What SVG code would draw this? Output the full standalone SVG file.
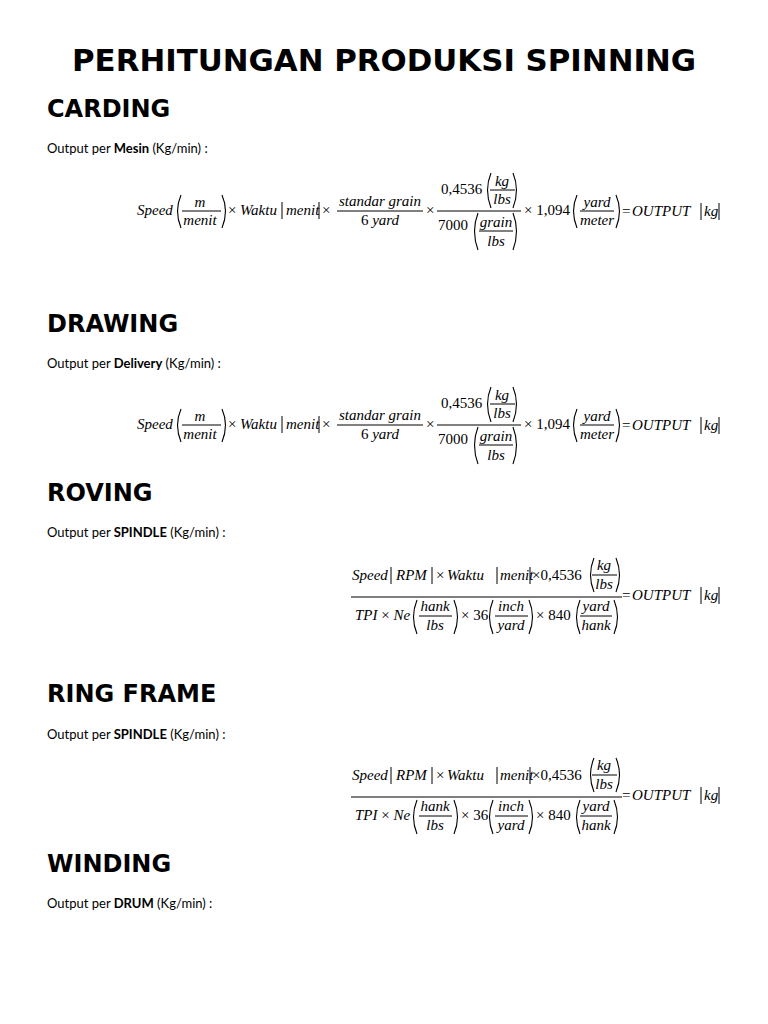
<svg xmlns="http://www.w3.org/2000/svg" xmlns:xlink="http://www.w3.org/1999/xlink" width="768" height="1024" viewBox="0 0 768 1024">
<style>
.t{font-family:"DejaVu Sans",sans-serif;font-weight:bold;fill:#000}
.h{font-family:"DejaVu Sans",sans-serif;font-weight:bold;font-size:24px;fill:#000}
.s{font-family:Lato,"Liberation Sans",sans-serif;font-size:13px;fill:#000}
.s b{font-weight:bold}
.m{font-family:"Liberation Serif",serif;font-style:italic;font-size:15px;fill:#000}
.n{font-family:"Liberation Serif",serif;font-size:15px;fill:#000}
.c{text-anchor:middle}
.l{stroke:#000;stroke-width:1;fill:none}
.p{stroke:#000;stroke-width:1.1;fill:none}
</style>
<rect width="768" height="1024" fill="#fff"/>
<defs>
<g id="f1">
<text class="m" x="137" y="215">Speed</text>
<path class="p" d="M181 195 Q174 211 181 228"/>
<text class="m c" x="200" y="207">m</text>
<line class="l" x1="182" y1="211" x2="221" y2="211"/>
<text class="m c" x="200" y="225">menit</text>
<path class="p" d="M222 195 Q229 211 222 228"/>
<text class="n" x="228" y="215">×</text>
<text class="m" x="240" y="215">Waktu</text>
<line class="l" x1="282" y1="202" x2="282" y2="219"/>
<text class="m" x="286" y="215">menit</text>
<line class="l" x1="319" y1="202" x2="319" y2="219"/>
<text class="n" x="322" y="215">×</text>
<text class="m c" x="380" y="206">standar grain</text>
<line class="l" x1="337" y1="211" x2="423" y2="211"/>
<text class="n c" x="380" y="225">6 <tspan font-style="italic">yard</tspan></text>
<text class="n" x="426" y="215">×</text>
<line class="l" x1="437" y1="211" x2="521" y2="211"/>
<text class="n" x="441" y="194">0,4536</text>
<path class="p" d="M491 173 Q484 190 491 208"/>
<text class="m c" x="502" y="186">kg</text>
<line class="l" x1="490" y1="190" x2="515" y2="190"/>
<text class="m c" x="502" y="204">lbs</text>
<path class="p" d="M513 173 Q520 190 513 208"/>
<text class="n" x="438" y="230">7000</text>
<path class="p" d="M478 213 Q471 231 478 250"/>
<text class="m c" x="496" y="227">grain</text>
<line class="l" x1="479" y1="231" x2="513" y2="231"/>
<text class="m c" x="496" y="246">lbs</text>
<path class="p" d="M513 213 Q520 231 513 250"/>
<text class="n" x="524" y="215">× 1,094</text>
<path class="p" d="M577 195 Q570 211 577 228"/>
<text class="m c" x="597" y="207">yard</text>
<line class="l" x1="580" y1="211" x2="614" y2="211"/>
<text class="m c" x="597" y="225">meter</text>
<path class="p" d="M616 195 Q623 211 616 228"/>
<text class="n" x="622" y="216">=</text>
<text class="m" x="632" y="216">OUTPUT</text>
<line class="l" x1="701" y1="203" x2="701" y2="220"/>
<text class="m" x="704" y="216">kg</text>
<line class="l" x1="719" y1="203" x2="719" y2="220"/>
</g>
<g id="f2">
<text class="m" x="352" y="580">Speed</text>
<line class="l" x1="391" y1="567" x2="391" y2="584"/>
<text class="m" x="396" y="580">RPM</text>
<line class="l" x1="432" y1="567" x2="432" y2="584"/>
<text class="n" x="436" y="580">×</text>
<text class="m" x="447" y="580">Waktu</text>
<line class="l" x1="497" y1="567" x2="497" y2="584"/>
<text class="m" x="500" y="580">menit</text>
<line class="l" x1="530" y1="567" x2="530" y2="584"/>
<text class="n" x="532" y="580">×0,4536</text>
<path class="p" d="M594 558 Q587 575 594 592"/>
<text class="m c" x="604" y="570">kg</text>
<line class="l" x1="592" y1="575" x2="617" y2="575"/>
<text class="m c" x="604" y="589">lbs</text>
<path class="p" d="M616 558 Q623 575 616 592"/>
<line class="l" x1="351" y1="597" x2="622" y2="597"/>
<text class="m" x="355" y="620">TPI <tspan font-style="normal">×</tspan> Ne</text>
<path class="p" d="M417 600 Q410 617 417 634"/>
<text class="m c" x="435" y="611">hank</text>
<line class="l" x1="419" y1="616" x2="452" y2="616"/>
<text class="m c" x="435" y="630">lbs</text>
<path class="p" d="M454 600 Q461 617 454 634"/>
<text class="n" x="461" y="620">× 36</text>
<path class="p" d="M493 600 Q486 617 493 634"/>
<text class="m c" x="511" y="611">inch</text>
<line class="l" x1="495" y1="616" x2="528" y2="616"/>
<text class="m c" x="511" y="630">yard</text>
<path class="p" d="M529 600 Q536 617 529 634"/>
<text class="n" x="536" y="620">× 840</text>
<path class="p" d="M580 600 Q573 617 580 634"/>
<text class="m c" x="596" y="611">yard</text>
<line class="l" x1="580" y1="616" x2="612" y2="616"/>
<text class="m c" x="596" y="630">hank</text>
<path class="p" d="M614 600 Q621 617 614 634"/>
<text class="n" x="622" y="600">=</text>
<text class="m" x="632" y="600">OUTPUT</text>
<line class="l" x1="701" y1="587" x2="701" y2="604"/>
<text class="m" x="704" y="600">kg</text>
<line class="l" x1="719" y1="587" x2="719" y2="604"/>
</g>
</defs>
<text class="t c" x="384" y="71" font-size="31" textLength="624" lengthAdjust="spacingAndGlyphs">PERHITUNGAN PRODUKSI SPINNING</text>
<text class="h" x="47" y="117">CARDING</text>
<text class="s" x="47" y="153">Output per <tspan font-weight="bold">Mesin</tspan> (Kg/min) :</text>
<use xlink:href="#f1"/>
<text class="h" x="47" y="332">DRAWING</text>
<text class="s" x="47" y="368">Output per <tspan font-weight="bold">Delivery</tspan> (Kg/min) :</text>
<use xlink:href="#f1" y="214"/>
<text class="h" x="47" y="501">ROVING</text>
<text class="s" x="47" y="537">Output per <tspan font-weight="bold">SPINDLE</tspan> (Kg/min) :</text>
<use xlink:href="#f2"/>
<text class="h" x="47" y="702">RING FRAME</text>
<text class="s" x="47" y="739">Output per <tspan font-weight="bold">SPINDLE</tspan> (Kg/min) :</text>
<use xlink:href="#f2" y="200"/>
<text class="h" x="47" y="872">WINDING</text>
<text class="s" x="47" y="908">Output per <tspan font-weight="bold">DRUM</tspan> (Kg/min) :</text>
</svg>
